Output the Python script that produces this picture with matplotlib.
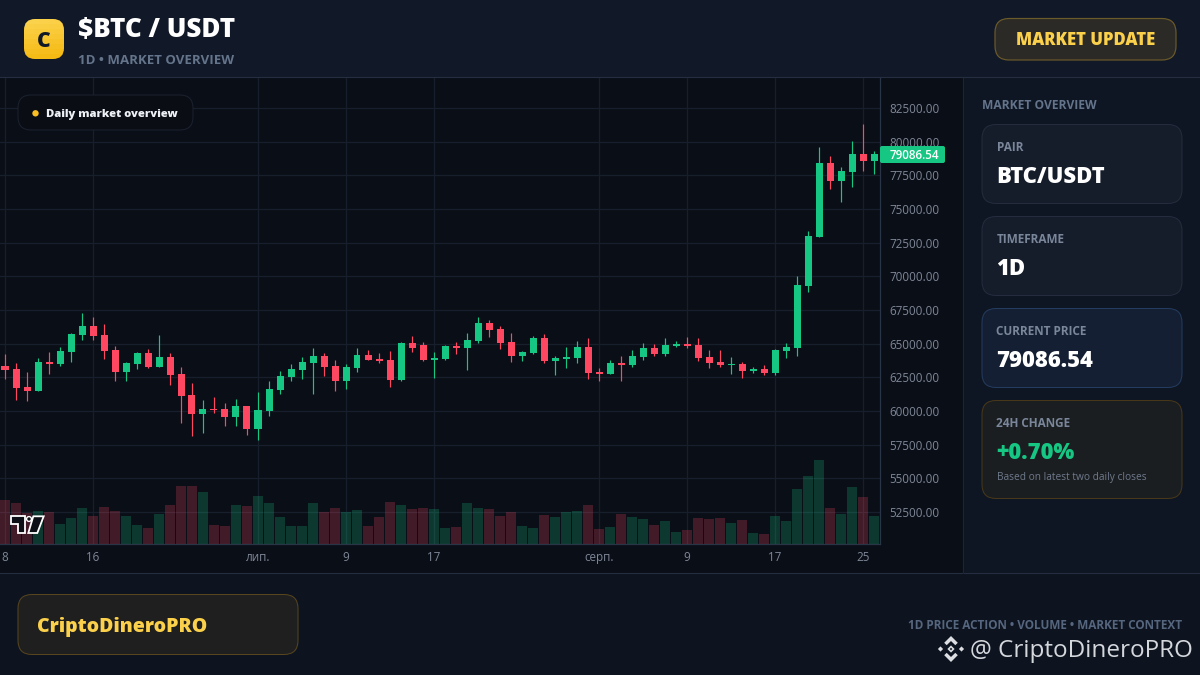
import matplotlib
matplotlib.use("Agg")
import matplotlib.pyplot as plt
from matplotlib.patches import FancyBboxPatch, Rectangle, Polygon, Circle
from matplotlib.colors import LinearSegmentedColormap
import numpy as np

W, H = 1200, 675
plt.rcParams['font.family'] = ['Open Sans', 'DejaVu Sans']

highs = [64265,63573,62906,63943,64413,64783,65821,67303,67006,66488,64857,63672,64413,64635,65672,64339,63301,62042,60782,61004,
         60560,60856,60337,61375,62264,63005,63524,64028,64698,64326,63805,63507,64698,64549,64326,64475,65144,65591,65095,64400,
         64921,65095,65814,67004,66781,66335,65814,64475,65591,65739,64103,64772,65219,65429,63195,63791,64089,64536,65057,64982,
         65429,65206,65504,65429,64536,64536,64014,63642,63270,63419,64610,65057,70046,73396,79577,78906,78087,80023,81289,79279]
lows = [62412,60782,60708,61449,62783,63375,63672,65302,65302,63894,62264,62264,63153,63227,63301,61893,59078,58114,58337,59819,
        58855,58855,58188,57818,59596,61227,62264,62391,61275,62615,61499,61647,62912,63805,63582,61796,62243,64400,63731,62466,
        63805,64251,63061,65070,65516,64623,63656,63731,64251,63582,62689,63210,63582,62376,62227,62748,62227,63270,63791,64089,
        64089,64759,64685,63717,63195,63270,62748,62451,62823,62674,62674,63940,64089,68854,72950,76449,75481,76598,77790,77566]
opens = [63375,63153,61745,61449,63672,63524,64413,65672,66339,65672,64561,62931,63524,64339,63301,64042,62783,61152,59745,60115,
         60115,59522,60337,58633,59967,61523,62560,63061,63582,64103,63359,62243,63210,64177,63879,63805,62317,65070,64872,63805,
         63879,64847,64698,65219,66558,66111,65144,64103,64326,65442,63731,63879,63954,64759,62897,62748,63568,63419,64014,64685,
         64238,64833,64982,64908,64014,63642,63419,63494,62972,63121,62823,64461,64685,69301,72950,78385,77045,77715,79055,78534]
closes = [63079,61671,61449,63672,63524,64487,65747,66339,65598,64487,62931,63598,64339,63301,64042,62708,61078,59745,60115,60041,
          59522,60337,58633,60041,61597,62634,63153,63656,64103,63284,62243,63284,64177,63805,63731,62317,65070,64698,63805,63954,
          64847,64698,65293,66558,66037,65070,64103,64400,65442,63731,63954,64028,64772,62823,62748,63568,63419,64089,64685,64238,
          64908,64982,64833,63940,63568,63419,63494,62972,63121,62823,64536,64759,69376,73024,78385,77045,77790,79055,78534,79086.54]
volumes = [44.3,41.3,31.0,33.3,32.3,20.3,26.3,36.3,28.3,37.3,33.3,28.3,19.3,16.3,30.3,39.3,58.3,58.3,52.3,19.3,
           18.3,39.3,38.3,48.3,41.3,27.3,18.3,18.3,41.3,32.3,36.3,32.3,34.3,18.3,27.3,42.3,39.3,35.3,36.3,35.3,
           16.3,17.3,41.3,36.3,35.3,28.3,32.3,18.3,16.3,29.3,27.3,32.3,33.3,39.3,15.3,17.3,30.3,27.3,25.3,19.3,
           23.3,12.3,14.3,26.3,25.3,26.3,21.3,24.3,11.3,10.3,28.3,23.3,55.3,68.3,84.3,36.3,30.3,57.3,47.3,28.3]
time_tick_pos = [0, 8, 23, 31, 39, 54, 62, 70, 78]
time_tick_labels = ['8', '16', 'лип.', '9', '17', 'серп.', '9', '17', '25']
price_ticks = list(range(52500, 82501, 2500))
last_price = 79086.54
title = '$BTC / USDT'
subtitle = '1D • MARKET OVERVIEW'
cards = [('PAIR', 'BTC/USDT'), ('TIMEFRAME', '1D'), ('CURRENT PRICE', '79086.54'), ('24H CHANGE', '+0.70%')]

GREEN = '#16c784'
RED = '#ff4761'
GRID = '#181f2c'
AXIS = '#2a3447'
LABEL = '#7f8797'
CHART_BG = '#0a0e17'
GOLD = '#fbd04b'

fig = plt.figure(figsize=(12, 6.75), dpi=100, facecolor='#0d1420')

def px_axes(z):
    a = fig.add_axes([0, 0, 1, 1], zorder=z)
    a.set_xlim(0, W)
    a.set_ylim(H, 0)
    a.axis('off')
    a.patch.set_alpha(0)
    return a

def panel(a, x, y, w, h, r, fc, ec, lw=1.0, z=2):
    a.add_patch(FancyBboxPatch((x, y), w, h, boxstyle=f'round,pad=0,rounding_size={r}',
                               fc=fc, ec=ec, lw=lw * 0.72, zorder=z))

def txt(a, x, y, s, px, color, weight='normal', ha='left', z=5):
    return a.text(x, y, s, fontsize=px * 0.72, color=color, fontweight=weight,
                  ha=ha, va='baseline', zorder=z)

# Chrome behind the chart
bg = px_axes(0)
bg.add_patch(Rectangle((0, 0), W, 78, fc='#111827', ec='none'))
bg.add_patch(Rectangle((0, 78), 964, 495, fc=CHART_BG, ec='none'))
bg.add_patch(Rectangle((964, 78), 236, 495, fc='#0f1623', ec='none'))
bg.add_patch(Rectangle((0, 573), W, 102, fc='#0d1420', ec='none'))
bg.plot([0, W], [77.2, 77.2], color='#252e40', lw=0.8)
bg.plot([0, W], [573.0, 573.0], color='#252e40', lw=0.8)
bg.plot([963.2, 963.2], [78, 573], color='#1d2535', lw=0.8)

# Price chart: pixel window x 0..880, y 78..544
ax = fig.add_axes([0, (H - 544) / H, 880 / W, (544 - 78) / H], zorder=2)
ax.patch.set_alpha(0)
x = np.arange(len(closes))
ax.set_xlim(-5 / 11, 79 + 6 / 11)
ax.set_ylim(50124, 84725)
for i in x:
    c = GREEN if closes[i] >= opens[i] else RED
    ax.vlines(i, lows[i], highs[i], color=c, lw=0.85, zorder=3)
    ax.bar(i, abs(closes[i] - opens[i]), bottom=min(opens[i], closes[i]), width=7 / 11, color=c, lw=0, zorder=4)
ax.set_xticks(time_tick_pos)
ax.set_xticklabels(time_tick_labels)
ax.grid(True, color=GRID, lw=0.9, zorder=1)
ax.set_axisbelow(True)

# Volume overlay, sharing the time scale
vol = ax.twinx()
vol.set_ylim(0, 466)
vol.bar(x, volumes, width=10 / 11, lw=0, alpha=0.23,
        color=[GREEN if closes[i] >= opens[i] else RED for i in x], zorder=2)
vol.set_yticks([])
for sp in vol.spines.values():
    sp.set_visible(False)

ax.yaxis.tick_right()
ax.set_yticks(price_ticks)
ax.set_yticklabels([f'{p:.2f}' for p in price_ticks])
ax.tick_params(axis='both', length=0, colors=LABEL, labelsize=8.4)
ax.tick_params(axis='y', pad=6.8)
ax.tick_params(axis='x', pad=5)
for name, sp in ax.spines.items():
    sp.set_visible(name in ('right', 'bottom'))
    sp.set_color(AXIS)
    sp.set_linewidth(0.9)

# Foreground chrome
fg = px_axes(5)
grad = LinearSegmentedColormap.from_list('g', ['#fcd34d', '#f5b912'])
im = fg.imshow(np.linspace(0, 1, 64).reshape(8, 8), cmap=grad, extent=(24, 64, 59, 19), zorder=3, aspect='auto')
clip = FancyBboxPatch((24, 19), 40, 40, boxstyle='round,pad=0,rounding_size=11', fc='none', ec='none', transform=fg.transData)
fg.add_patch(clip)
im.set_clip_path(clip)
fg.set_xlim(0, W); fg.set_ylim(H, 0)
txt(fg, 44, 47, 'C', 21, '#111827', 800, ha='center')
txt(fg, 78, 37, title, 26, '#ffffff', 800)
txt(fg, 78, 64, subtitle, 13.2, '#64748b', 700)

panel(fg, 995, 18.5, 181, 41.5, 14, '#2b2a26', '#6b5a2a', 1.2)
txt(fg, 1085.5, 45, 'MARKET UPDATE', 16.8, GOLD, 800, ha='center')

panel(fg, 18, 95, 175, 35, 13, '#0a0d14', '#1b2230', 1.0)
fg.add_patch(Circle((35.5, 113.3), 3.2, fc='#fbbf24', ec='none', zorder=4))
txt(fg, 46, 117, 'Daily market overview', 11.3, '#eef1f5', 800)

panel(fg, 880, 146, 65, 17, 2, GREEN, 'none', 0)
txt(fg, 889.5, 159, f'{last_price:.2f}', 11.6, '#ffffff', 600)

for pts in ([(11, 516.3), (25, 516.3), (25, 533), (17.7, 533), (17.7, 524), (11, 524)],
            [(33.3, 516.3), (43.7, 516.3), (37.3, 533), (28.3, 533)]):
    fg.add_patch(Polygon(pts, closed=True, fc='#0c0f16', ec='#ffffff', lw=1.3, zorder=4))
fg.add_patch(Circle((29, 519), 2.4, fc='#0c0f16', ec='#ffffff', lw=1.0, zorder=4))

txt(fg, 982, 109, 'MARKET OVERVIEW', 12, '#64748b', 700)
panel(fg, 982, 124.5, 200, 79, 14, '#151d2b', '#232d3e')
panel(fg, 982, 216.5, 200, 79, 14, '#151d2b', '#232d3e')
panel(fg, 982, 308.5, 200, 79, 14, '#141f33', '#233c5f')
panel(fg, 982, 400.5, 200, 98, 14, '#1b1e21', '#483819')
card_lab_y = [151, 243, 335, 427]
card_val_y = [183, 275, 367, 459]
card_val_c = ['#ffffff', '#ffffff', '#ffffff', GREEN]
for (lab, val), ly, vy, c in zip(cards, card_lab_y, card_val_y, card_val_c):
    txt(fg, 996.5, ly, lab, 11.7, '#7a8699', 700)
    txt(fg, 996.5, vy, val, 22, c, 800)
txt(fg, 997, 480, 'Based on latest two daily closes', 10.1, '#6f7a8c')

panel(fg, 18, 594.5, 280, 60, 14, '#1f1f1f', '#57461e')
txt(fg, 37, 632, 'CriptoDineroPRO', 19.5, GOLD, 800)
txt(fg, 1182, 629, '1D PRICE ACTION • VOLUME • MARKET CONTEXT', 11.8, '#56667e', 700, ha='right')
txt(fg, 970, 657, '@ CriptoDineroPRO', 24.2, '#d4d7dc', 'normal')

cx, cy = 951, 649
MARK = '#dcdee1'
fg.add_patch(Polygon([(cx, cy-3.6), (cx+3.6, cy), (cx, cy+3.6), (cx-3.6, cy)], closed=True, fc=MARK, ec='none', zorder=4))
fg.add_patch(Polygon([(cx, cy-1.3), (cx+1.3, cy), (cx, cy+1.3), (cx-1.3, cy)], closed=True, fc='#0d1420', ec='none', zorder=5))
fg.add_patch(Polygon([(cx, cy-13), (cx+6.8, cy-6.2), (cx+4.3, cy-3.8), (cx, cy-8), (cx-4.3, cy-3.8), (cx-6.8, cy-6.2)], closed=True, fc=MARK, ec='none', zorder=4))
fg.add_patch(Polygon([(cx, cy+13), (cx+6.8, cy+6.2), (cx+4.3, cy+3.8), (cx, cy+8), (cx-4.3, cy+3.8), (cx-6.8, cy+6.2)], closed=True, fc=MARK, ec='none', zorder=4))
for dx in (-10.5, 10.5):
    fg.add_patch(Polygon([(cx+dx, cy-2.6), (cx+dx+2.6, cy), (cx+dx, cy+2.6), (cx+dx-2.6, cy)], closed=True, fc=MARK, ec='none', zorder=4))

fig.savefig('out.png', dpi=100, facecolor=fig.get_facecolor())
